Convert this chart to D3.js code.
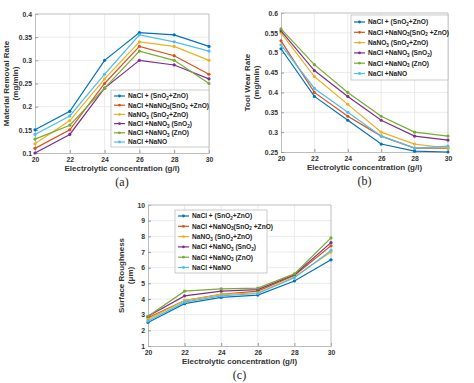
<!DOCTYPE html>
<html><head><meta charset="utf-8">
<script src="https://cdn.jsdelivr.net/npm/d3@7"></script>
<style>body{margin:0;background:#fff}svg{display:block}</style>
</head><body>
<svg id="c" width="474" height="383"></svg>
<script>
const xValues = [20, 22, 24, 26, 28, 30];
const seriesNames = [
  [["NaCl + (SnO",""],["2","sub"],["+ZnO)",""]],
  [["NaCl +NaNO",""],["3","sub"],["(SnO",""],["2","sub"],[" +ZnO)",""]],
  [["NaNO",""],["3","sub"],[" (SnO",""],["2","sub"],["+ZnO)",""]],
  [["NaCl +NaNO",""],["3","sub"],[" (SnO",""],["2","sub"],[")",""]],
  [["NaCl +NaNO",""],["3","sub"],[" (ZnO)",""]],
  [["NaCl +NaNO",""]]
];
const colors = ["#0072BD","#D95319","#EDB120","#7E2F8E","#77AC30","#4DBEEE"];

const mrr = [
  [0.15, 0.19, 0.30, 0.36, 0.355, 0.33],
  [0.11, 0.15, 0.25, 0.33, 0.31, 0.27],
  [0.12, 0.17, 0.26, 0.34, 0.33, 0.30],
  [0.10, 0.14, 0.24, 0.30, 0.29, 0.26],
  [0.13, 0.16, 0.24, 0.32, 0.30, 0.25],
  [0.14, 0.18, 0.27, 0.355, 0.34, 0.32]
];
const twr = [
  [0.51, 0.39, 0.33, 0.27, 0.252, 0.25],
  [0.53, 0.40, 0.34, 0.29, 0.26, 0.26],
  [0.55, 0.44, 0.37, 0.30, 0.27, 0.26],
  [0.555, 0.455, 0.39, 0.33, 0.29, 0.28],
  [0.56, 0.47, 0.40, 0.34, 0.30, 0.29],
  [0.52, 0.41, 0.35, 0.29, 0.26, 0.265]
];
const sr = [
  [2.5, 3.7, 4.1, 4.25, 5.15, 6.5],
  [2.8, 3.9, 4.3, 4.5, 5.5, 7.4],
  [2.7, 3.9, 4.3, 4.4, 5.4, 7.0],
  [2.9, 4.2, 4.5, 4.6, 5.55, 7.6],
  [2.9, 4.5, 4.65, 4.7, 5.6, 7.9],
  [2.6, 3.8, 4.2, 4.35, 5.35, 7.1]
];
const mrrTicks = [0.1, 0.15, 0.2, 0.25, 0.3, 0.35, 0.4];
const twrTicks = [0.25, 0.3, 0.35, 0.4, 0.45, 0.5, 0.55, 0.6];
const srTicks = [1, 2, 3, 4, 5, 6, 7, 8, 9, 10];
const xLabel = "Electrolytic concentration (g/l)";

const svg = d3.select("#c");
const FONT = "Liberation Sans, Arial, sans-serif";

function panel(o) {
  const g = svg.append("g");
  const x = d3.scaleLinear().domain([20, 30]).range([o.l, o.r]);
  const y = d3.scaleLinear().domain(o.yDomain).range([o.b, o.t]);
  g.append("rect").attr("x", o.l).attr("y", o.t).attr("width", o.r - o.l).attr("height", o.b - o.t).attr("fill", "#fff");
  g.append("g").selectAll("line").data(xValues.slice(1, -1)).join("line")
    .attr("x1", d => x(d)).attr("x2", d => x(d)).attr("y1", o.t).attr("y2", o.b)
    .attr("stroke", "#e6e6e6").attr("stroke-width", 0.8);
  g.append("g").selectAll("line").data(o.yTicks.slice(1, -1)).join("line")
    .attr("y1", d => y(d)).attr("y2", d => y(d)).attr("x1", o.l).attr("x2", o.r)
    .attr("stroke", "#e6e6e6").attr("stroke-width", 0.8);
  const xa = g.append("g").attr("transform", `translate(0,${o.b})`)
    .call(d3.axisBottom(x).tickValues(xValues).tickSize(-3).tickPadding(4).tickFormat(d3.format("d")));
  const ya = g.append("g").attr("transform", `translate(${o.l},0)`)
    .call(d3.axisLeft(y).tickValues(o.yTicks).tickSize(-3).tickPadding(3).tickFormat(o.fmt));
  [xa, ya].forEach(a => {
    a.select(".domain").attr("stroke", "#bdbdbd");
    a.selectAll(".tick line").attr("stroke", "#9a9a9a");
    a.selectAll("text").attr("font-family", FONT).attr("font-weight", "bold").attr("font-size", 6.8).attr("fill", "#333");
  });
  g.append("line").attr("x1", o.l).attr("x2", o.r).attr("y1", o.t).attr("y2", o.t).attr("stroke", "#bdbdbd");
  g.append("line").attr("x1", o.r).attr("x2", o.r).attr("y1", o.t).attr("y2", o.b).attr("stroke", "#bdbdbd");
  const line = d3.line().x((d, i) => x(xValues[i])).y(d => y(d));
  o.data.forEach((s, k) => {
    g.append("path").attr("d", line(s)).attr("fill", "none").attr("stroke", colors[k]).attr("stroke-width", 1.2);
    g.append("g").selectAll("circle").data(s).join("circle")
      .attr("cx", (d, i) => x(xValues[i])).attr("cy", d => y(d)).attr("r", 1.6).attr("fill", colors[k]);
  });
  const yl = g.append("text").attr("transform", `translate(${o.ylx},${(o.t + o.b) / 2}) rotate(-90)`)
    .attr("text-anchor", "middle").attr("font-family", FONT).attr("font-weight", "bold").attr("font-size", 8).attr("fill", "#333");
  yl.append("tspan").attr("x", 0).attr("dy", 0).text(o.ylab[0]);
  yl.append("tspan").attr("x", 0).attr("dy", 8.6).text(o.ylab[1]);
  g.append("text").attr("x", (o.l + o.r) / 2).attr("y", o.b + 17.5).attr("text-anchor", "middle")
    .attr("font-family", FONT).attr("font-weight", "bold").attr("font-size", 8).attr("fill", "#333").text(xLabel);
  g.append("text").attr("x", (o.l + o.r) / 2).attr("y", o.b + 33).attr("text-anchor", "middle")
    .attr("font-family", "Liberation Serif, Times New Roman, serif").attr("font-size", 12).attr("fill", "#222").text(o.cap);
  const L = o.leg;
  g.append("rect").attr("x", L.x).attr("y", L.y).attr("width", L.w).attr("height", L.h)
    .attr("fill", "#fff").attr("stroke", "#bdbdbd").attr("stroke-width", 0.8);
  seriesNames.forEach((nm, k) => {
    const yy = L.y + L.pad + k * L.dy;
    g.append("line").attr("x1", L.x + 3).attr("x2", L.x + 14).attr("y1", yy).attr("y2", yy)
      .attr("stroke", colors[k]).attr("stroke-width", 1.2);
    g.append("circle").attr("cx", L.x + 8.5).attr("cy", yy).attr("r", 1.4).attr("fill", colors[k]);
    const t = g.append("text").attr("x", L.x + 17).attr("y", yy + 2.3)
      .attr("font-family", FONT).attr("font-weight", "bold").attr("font-size", 6.6).attr("fill", "#222");
    let shift = 0;
    nm.forEach(([s, kind]) => {
      if (kind === "sub") {
        t.append("tspan").attr("dy", 1.8 - shift).attr("font-size", 4.6).text(s);
        shift = 1.8;
      } else {
        t.append("tspan").attr("dy", -shift).text(s);
        shift = 0;
      }
    });
  });
}

panel({ l: 35, r: 209, t: 14, b: 153, yDomain: [0.1, 0.4], yTicks: mrrTicks, fmt: d3.format("~g"),
  data: mrr, ylab: ["Material Removal Rate", "(mg/min)"], ylx: 9, cap: "(a)",
  leg: { x: 111, y: 90, w: 98, h: 57, pad: 6, dy: 9.2 } });
panel({ l: 281, r: 448, t: 13, b: 152, yDomain: [0.25, 0.6], yTicks: twrTicks, fmt: d3.format("~g"),
  data: twr, ylab: ["Tool Wear Rate", "(mg/min)"], ylx: 250, cap: "(b)",
  leg: { x: 351, y: 15, w: 97, h: 65, pad: 7, dy: 10.3 } });
panel({ l: 148, r: 331, t: 205, b: 346, yDomain: [1, 10], yTicks: srTicks, fmt: d3.format("d"),
  data: sr, ylab: ["Surface Roughness", "(μm)"], ylx: 124, cap: "(c)",
  leg: { x: 175, y: 210, w: 92, h: 63, pad: 6, dy: 10.3 } });
</script>
</body></html>
